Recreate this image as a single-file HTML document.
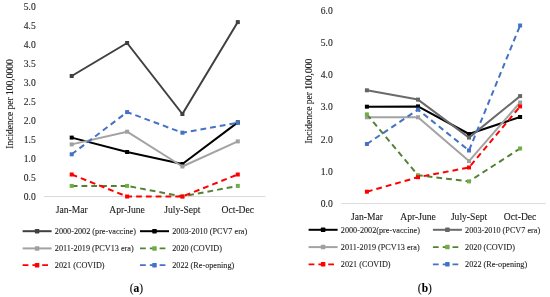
<!DOCTYPE html>
<html><head><meta charset="utf-8"><style>
html,body{margin:0;padding:0;background:#fff;}
svg{display:block;will-change:transform;}
text{font-family:"Liberation Serif",serif;fill:#222;stroke:#222;stroke-width:0.1px;}
</style></head><body>
<svg width="550" height="297" viewBox="0 0 550 297">
<text x="35.7" y="199.9" text-anchor="end" font-size="9.6">0.0</text>
<text x="35.7" y="180.9" text-anchor="end" font-size="9.6">0.5</text>
<text x="35.7" y="161.9" text-anchor="end" font-size="9.6">1.0</text>
<text x="35.7" y="142.9" text-anchor="end" font-size="9.6">1.5</text>
<text x="35.7" y="123.9" text-anchor="end" font-size="9.6">2.0</text>
<text x="35.7" y="104.9" text-anchor="end" font-size="9.6">2.5</text>
<text x="35.7" y="85.9" text-anchor="end" font-size="9.6">3.0</text>
<text x="35.7" y="66.9" text-anchor="end" font-size="9.6">3.5</text>
<text x="35.7" y="47.9" text-anchor="end" font-size="9.6">4.0</text>
<text x="35.7" y="28.9" text-anchor="end" font-size="9.6">4.5</text>
<text x="35.7" y="9.9" text-anchor="end" font-size="9.6">5.0</text>
<line x1="44.0" y1="196.5" x2="265.5" y2="196.5" stroke="#d9d9d9" stroke-width="1"/>
<text x="71.7" y="212.9" text-anchor="middle" font-size="9.6">Jan-Mar</text>
<text x="127.1" y="212.9" text-anchor="middle" font-size="9.6">Apr-June</text>
<text x="182.4" y="212.9" text-anchor="middle" font-size="9.6">July-Sept</text>
<text x="237.8" y="212.9" text-anchor="middle" font-size="9.6">Oct-Dec</text>
<text transform="translate(13.0,104.0) rotate(-90)" text-anchor="middle" font-size="9.5">Incidence per 100,0000</text>
<polyline points="71.7,76.0 127.1,43.0 182.4,114.0 237.8,22.1" fill="none" stroke="#404040" stroke-width="2" stroke-linejoin="round"/>
<rect x="69.7" y="74.0" width="4" height="4" fill="#404040"/>
<rect x="125.1" y="41.0" width="4" height="4" fill="#404040"/>
<rect x="180.4" y="112.0" width="4" height="4" fill="#404040"/>
<rect x="235.8" y="20.1" width="4" height="4" fill="#404040"/>
<polyline points="71.7,137.6 127.1,152.0 182.4,164.0 237.8,122.4" fill="none" stroke="#000000" stroke-width="2" stroke-linejoin="round"/>
<rect x="69.7" y="135.6" width="4" height="4" fill="#000000"/>
<rect x="125.1" y="150.0" width="4" height="4" fill="#000000"/>
<rect x="180.4" y="162.0" width="4" height="4" fill="#000000"/>
<rect x="235.8" y="120.4" width="4" height="4" fill="#000000"/>
<polyline points="71.7,144.4 127.1,131.7 182.4,166.5 237.8,141.4" fill="none" stroke="#a3a3a3" stroke-width="2" stroke-linejoin="round"/>
<rect x="69.7" y="142.4" width="4" height="4" fill="#a0a0a0"/>
<rect x="125.1" y="129.7" width="4" height="4" fill="#a0a0a0"/>
<rect x="180.4" y="164.5" width="4" height="4" fill="#a0a0a0"/>
<rect x="235.8" y="139.4" width="4" height="4" fill="#a0a0a0"/>
<polyline points="71.7,185.9 127.1,185.9 182.4,196.5 237.8,185.9" fill="none" stroke="#548235" stroke-width="2" stroke-linejoin="round" stroke-dasharray="5.8 4"/>
<rect x="69.7" y="183.9" width="4" height="4" fill="#70ad47"/>
<rect x="125.1" y="183.9" width="4" height="4" fill="#70ad47"/>
<rect x="180.4" y="194.5" width="4" height="4" fill="#70ad47"/>
<rect x="235.8" y="183.9" width="4" height="4" fill="#70ad47"/>
<polyline points="71.7,174.5 127.1,196.5 182.4,196.5 237.8,174.5" fill="none" stroke="#ff0000" stroke-width="2" stroke-linejoin="round" stroke-dasharray="5.8 4"/>
<rect x="69.7" y="172.5" width="4" height="4" fill="#ff0000"/>
<rect x="125.1" y="194.5" width="4" height="4" fill="#ff0000"/>
<rect x="180.4" y="194.5" width="4" height="4" fill="#ff0000"/>
<rect x="235.8" y="172.5" width="4" height="4" fill="#ff0000"/>
<polyline points="71.7,154.3 127.1,112.1 182.4,132.7 237.8,122.8" fill="none" stroke="#4472c4" stroke-width="2" stroke-linejoin="round" stroke-dasharray="5.8 4"/>
<rect x="69.7" y="152.3" width="4" height="4" fill="#4472c4"/>
<rect x="125.1" y="110.1" width="4" height="4" fill="#4472c4"/>
<rect x="180.4" y="130.7" width="4" height="4" fill="#4472c4"/>
<rect x="235.8" y="120.8" width="4" height="4" fill="#4472c4"/>
<text x="332.8" y="207.0" text-anchor="end" font-size="9.6">0.0</text>
<text x="332.8" y="174.8" text-anchor="end" font-size="9.6">1.0</text>
<text x="332.8" y="142.6" text-anchor="end" font-size="9.6">2.0</text>
<text x="332.8" y="110.4" text-anchor="end" font-size="9.6">3.0</text>
<text x="332.8" y="78.2" text-anchor="end" font-size="9.6">4.0</text>
<text x="332.8" y="46.0" text-anchor="end" font-size="9.6">5.0</text>
<text x="332.8" y="13.8" text-anchor="end" font-size="9.6">6.0</text>
<line x1="341.4" y1="203.6" x2="545.6" y2="203.6" stroke="#d9d9d9" stroke-width="1"/>
<text x="366.9" y="220.0" text-anchor="middle" font-size="9.6">Jan-Mar</text>
<text x="418.0" y="220.0" text-anchor="middle" font-size="9.6">Apr-June</text>
<text x="469.0" y="220.0" text-anchor="middle" font-size="9.6">July-Sept</text>
<text x="520.1" y="220.0" text-anchor="middle" font-size="9.6">Oct-Dec</text>
<text transform="translate(311.9,101.2) rotate(-90)" text-anchor="middle" font-size="9.5">Incidence per 100,000</text>
<polyline points="366.9,106.7 418.0,106.4 469.0,134.0 520.1,117.0" fill="none" stroke="#000000" stroke-width="2" stroke-linejoin="round"/>
<rect x="364.9" y="104.7" width="4" height="4" fill="#000000"/>
<rect x="416.0" y="104.4" width="4" height="4" fill="#000000"/>
<rect x="467.0" y="132.0" width="4" height="4" fill="#000000"/>
<rect x="518.1" y="115.0" width="4" height="4" fill="#000000"/>
<polyline points="366.9,90.3 418.0,99.6 469.0,137.6 520.1,96.1" fill="none" stroke="#6a6a6a" stroke-width="2" stroke-linejoin="round"/>
<rect x="364.9" y="88.3" width="4" height="4" fill="#666666"/>
<rect x="416.0" y="97.6" width="4" height="4" fill="#666666"/>
<rect x="467.0" y="135.6" width="4" height="4" fill="#666666"/>
<rect x="518.1" y="94.1" width="4" height="4" fill="#666666"/>
<polyline points="366.9,117.3 418.0,117.3 469.0,161.1 520.1,102.5" fill="none" stroke="#a3a3a3" stroke-width="2" stroke-linejoin="round"/>
<rect x="364.9" y="115.3" width="4" height="4" fill="#a0a0a0"/>
<rect x="416.0" y="115.3" width="4" height="4" fill="#a0a0a0"/>
<rect x="467.0" y="159.1" width="4" height="4" fill="#a0a0a0"/>
<rect x="518.1" y="100.5" width="4" height="4" fill="#a0a0a0"/>
<polyline points="366.9,114.4 418.0,175.3 469.0,181.4 520.1,148.5" fill="none" stroke="#548235" stroke-width="2" stroke-linejoin="round" stroke-dasharray="5.8 4"/>
<rect x="364.9" y="112.4" width="4" height="4" fill="#70ad47"/>
<rect x="416.0" y="173.3" width="4" height="4" fill="#70ad47"/>
<rect x="467.0" y="179.4" width="4" height="4" fill="#70ad47"/>
<rect x="518.1" y="146.5" width="4" height="4" fill="#70ad47"/>
<polyline points="366.9,191.7 418.0,177.2 469.0,167.5 520.1,106.4" fill="none" stroke="#ff0000" stroke-width="2" stroke-linejoin="round" stroke-dasharray="5.8 4"/>
<rect x="364.9" y="189.7" width="4" height="4" fill="#ff0000"/>
<rect x="416.0" y="175.2" width="4" height="4" fill="#ff0000"/>
<rect x="467.0" y="165.5" width="4" height="4" fill="#ff0000"/>
<rect x="518.1" y="104.4" width="4" height="4" fill="#ff0000"/>
<polyline points="366.9,144.0 418.0,109.6 469.0,150.5 520.1,25.5" fill="none" stroke="#4472c4" stroke-width="2" stroke-linejoin="round" stroke-dasharray="5.8 4"/>
<rect x="364.9" y="142.0" width="4" height="4" fill="#4472c4"/>
<rect x="416.0" y="107.6" width="4" height="4" fill="#4472c4"/>
<rect x="467.0" y="148.5" width="4" height="4" fill="#4472c4"/>
<rect x="518.1" y="23.5" width="4" height="4" fill="#4472c4"/>
<line x1="22.6" y1="231.2" x2="51.6" y2="231.2" stroke="#404040" stroke-width="2"/>
<rect x="34.85" y="228.95" width="4.5" height="4.5" rx="0.6" fill="#404040"/>
<text x="54.8" y="233.9" font-size="8.2">2000-2002 (pre-vaccine)</text>
<line x1="140.0" y1="231.2" x2="169.0" y2="231.2" stroke="#000000" stroke-width="2"/>
<rect x="152.25" y="228.95" width="4.5" height="4.5" rx="0.6" fill="#000000"/>
<text x="172.2" y="233.9" font-size="8.2">2003-2010 (PCV7 era)</text>
<line x1="22.6" y1="248.4" x2="51.6" y2="248.4" stroke="#a3a3a3" stroke-width="2"/>
<rect x="34.85" y="246.15" width="4.5" height="4.5" rx="0.6" fill="#a0a0a0"/>
<text x="54.8" y="251.1" font-size="8.2">2011-2019 (PCV13 era)</text>
<line x1="140.0" y1="248.4" x2="169.0" y2="248.4" stroke="#548235" stroke-width="1.8" stroke-dasharray="5.8 4"/>
<rect x="152.25" y="246.15" width="4.5" height="4.5" rx="0.6" fill="#70ad47"/>
<text x="172.2" y="251.1" font-size="8.2">2020 (COVID)</text>
<line x1="22.6" y1="265.2" x2="51.6" y2="265.2" stroke="#ff0000" stroke-width="1.8" stroke-dasharray="5.8 4"/>
<rect x="34.85" y="262.95" width="4.5" height="4.5" rx="0.6" fill="#ff0000"/>
<text x="54.8" y="267.9" font-size="8.2">2021 (COVID)</text>
<line x1="140.0" y1="265.2" x2="169.0" y2="265.2" stroke="#4472c4" stroke-width="1.8" stroke-dasharray="5.8 4"/>
<rect x="152.25" y="262.95" width="4.5" height="4.5" rx="0.6" fill="#4472c4"/>
<text x="172.2" y="267.9" font-size="8.2">2022 (Re-opening)</text>
<line x1="308.6" y1="229.8" x2="337.6" y2="229.8" stroke="#000000" stroke-width="2"/>
<rect x="320.85" y="227.55" width="4.5" height="4.5" rx="0.6" fill="#000000"/>
<text x="340.8" y="232.5" font-size="8.2">2000-2002(pre-vaccine)</text>
<line x1="432.9" y1="229.8" x2="461.9" y2="229.8" stroke="#6a6a6a" stroke-width="2"/>
<rect x="445.15" y="227.55" width="4.5" height="4.5" rx="0.6" fill="#666666"/>
<text x="465.1" y="232.5" font-size="8.2">2003-2010 (PCV7 era)</text>
<line x1="308.6" y1="247.1" x2="337.6" y2="247.1" stroke="#a3a3a3" stroke-width="2"/>
<rect x="320.85" y="244.85" width="4.5" height="4.5" rx="0.6" fill="#a0a0a0"/>
<text x="340.8" y="249.8" font-size="8.2">2011-2019 (PCV13 era)</text>
<line x1="432.9" y1="247.1" x2="461.9" y2="247.1" stroke="#548235" stroke-width="1.8" stroke-dasharray="5.8 4"/>
<rect x="445.15" y="244.85" width="4.5" height="4.5" rx="0.6" fill="#70ad47"/>
<text x="465.1" y="249.8" font-size="8.2">2020 (COVID)</text>
<line x1="308.6" y1="264.3" x2="337.6" y2="264.3" stroke="#ff0000" stroke-width="1.8" stroke-dasharray="5.8 4"/>
<rect x="320.85" y="262.05" width="4.5" height="4.5" rx="0.6" fill="#ff0000"/>
<text x="340.8" y="267.0" font-size="8.2">2021 (COVID)</text>
<line x1="432.9" y1="264.3" x2="461.9" y2="264.3" stroke="#4472c4" stroke-width="1.8" stroke-dasharray="5.8 4"/>
<rect x="445.15" y="262.05" width="4.5" height="4.5" rx="0.6" fill="#4472c4"/>
<text x="465.1" y="267.0" font-size="8.2">2022 (Re-opening)</text>
<text x="136.4" y="292.3" text-anchor="middle" font-size="11.5" style="fill:#000">(<tspan font-weight="bold">a</tspan>)</text>
<text x="424.9" y="292.3" text-anchor="middle" font-size="11.5" style="fill:#000">(<tspan font-weight="bold">b</tspan>)</text>
</svg>
</body></html>
